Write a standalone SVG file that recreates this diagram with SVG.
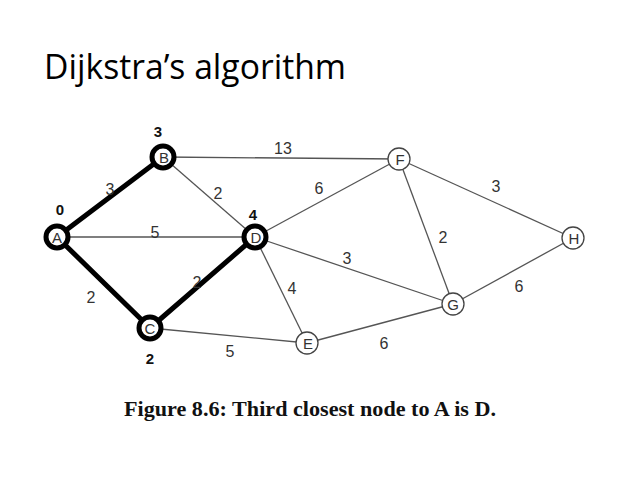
<svg xmlns="http://www.w3.org/2000/svg" width="638" height="478" viewBox="0 0 638 478">
<style>
.e{stroke:#555;stroke-width:1.3;fill:none}
.t{stroke:#000;stroke-width:5;fill:none;stroke-linecap:round}
.n{fill:#fff;stroke:#444;stroke-width:1.3}
.b{fill:#fff;stroke:#000;stroke-width:5}
.nl{font-family:"Liberation Sans",Arial,sans-serif;font-size:15px;fill:#333;text-anchor:middle}
.el{font-family:"Liberation Sans",Arial,sans-serif;font-size:16px;fill:#333;text-anchor:middle}
.dl{font-family:"Liberation Sans",Arial,sans-serif;font-size:15px;font-weight:bold;fill:#111;text-anchor:middle}
</style>
<rect width="638" height="478" fill="#fff"/>
<text x="44" y="79" font-family="'Open Sans','Noto Sans',sans-serif" font-size="34" fill="#000" textLength="302" lengthAdjust="spacingAndGlyphs">Dijkstra’s algorithm</text>
<g id="edges">
<line class="e" x1="163" y1="157" x2="399" y2="159"/>
<line class="e" x1="163" y1="157" x2="255" y2="237"/>
<line class="e" x1="57" y1="237" x2="255" y2="237"/>
<line class="e" x1="255" y1="237" x2="399" y2="159"/>
<line class="e" x1="255" y1="237" x2="453" y2="304"/>
<line class="e" x1="255" y1="237" x2="307" y2="343"/>
<line class="e" x1="150" y1="328" x2="307" y2="343"/>
<line class="e" x1="307" y1="343" x2="453" y2="304"/>
<line class="e" x1="399" y1="159" x2="453" y2="304"/>
<line class="e" x1="399" y1="159" x2="573" y2="238"/>
<line class="e" x1="453" y1="304" x2="573" y2="238"/>
<line class="t" x1="57" y1="237" x2="163" y2="157"/>
<line class="t" x1="57" y1="237" x2="150" y2="328"/>
<line class="t" x1="150" y1="328" x2="255" y2="237"/>
</g>
<g id="edge-labels">
<text class="el" x="283" y="154">13</text>
<text class="el" x="218" y="199">2</text>
<text class="el" x="110" y="195">3</text>
<text class="el" x="155" y="238">5</text>
<text class="el" x="319" y="194">6</text>
<text class="el" x="496" y="192">3</text>
<text class="el" x="443" y="243">2</text>
<text class="el" x="347" y="264">3</text>
<text class="el" x="292" y="294">4</text>
<text class="el" x="519" y="292">6</text>
<text class="el" x="91" y="303">2</text>
<text class="el" x="197" y="288">2</text>
<text class="el" x="230" y="357">5</text>
<text class="el" x="384" y="349">6</text>
</g>
<g id="node-A"><circle class="b" cx="57" cy="237" r="11"/><text class="nl" x="57" y="243">A</text><text class="dl" x="60" y="215">0</text></g>
<g id="node-B"><circle class="b" cx="163" cy="157" r="11"/><text class="nl" x="164" y="163">B</text><text class="dl" x="158" y="137">3</text></g>
<g id="node-C"><circle class="b" cx="150" cy="328" r="11"/><text class="nl" x="150" y="334">C</text><text class="dl" x="150" y="364">2</text></g>
<g id="node-D"><circle class="b" cx="255" cy="237" r="11"/><text class="nl" x="256" y="243">D</text><text class="dl" x="253" y="220">4</text></g>
<g id="node-E"><circle class="n" cx="307" cy="343" r="11"/><text class="nl" x="308" y="349">E</text></g>
<g id="node-F"><circle class="n" cx="399" cy="159" r="11"/><text class="nl" x="400" y="165">F</text></g>
<g id="node-G"><circle class="n" cx="453" cy="304" r="11"/><text class="nl" x="453" y="310">G</text></g>
<g id="node-H"><circle class="n" cx="573" cy="238" r="11"/><text class="nl" x="574" y="244">H</text></g>
<text x="310" y="416" font-family="'Liberation Serif','Times New Roman',serif" font-size="21" font-weight="bold" fill="#111" text-anchor="middle" textLength="372" lengthAdjust="spacingAndGlyphs">Figure 8.6: Third closest node to A is D.</text>
</svg>
